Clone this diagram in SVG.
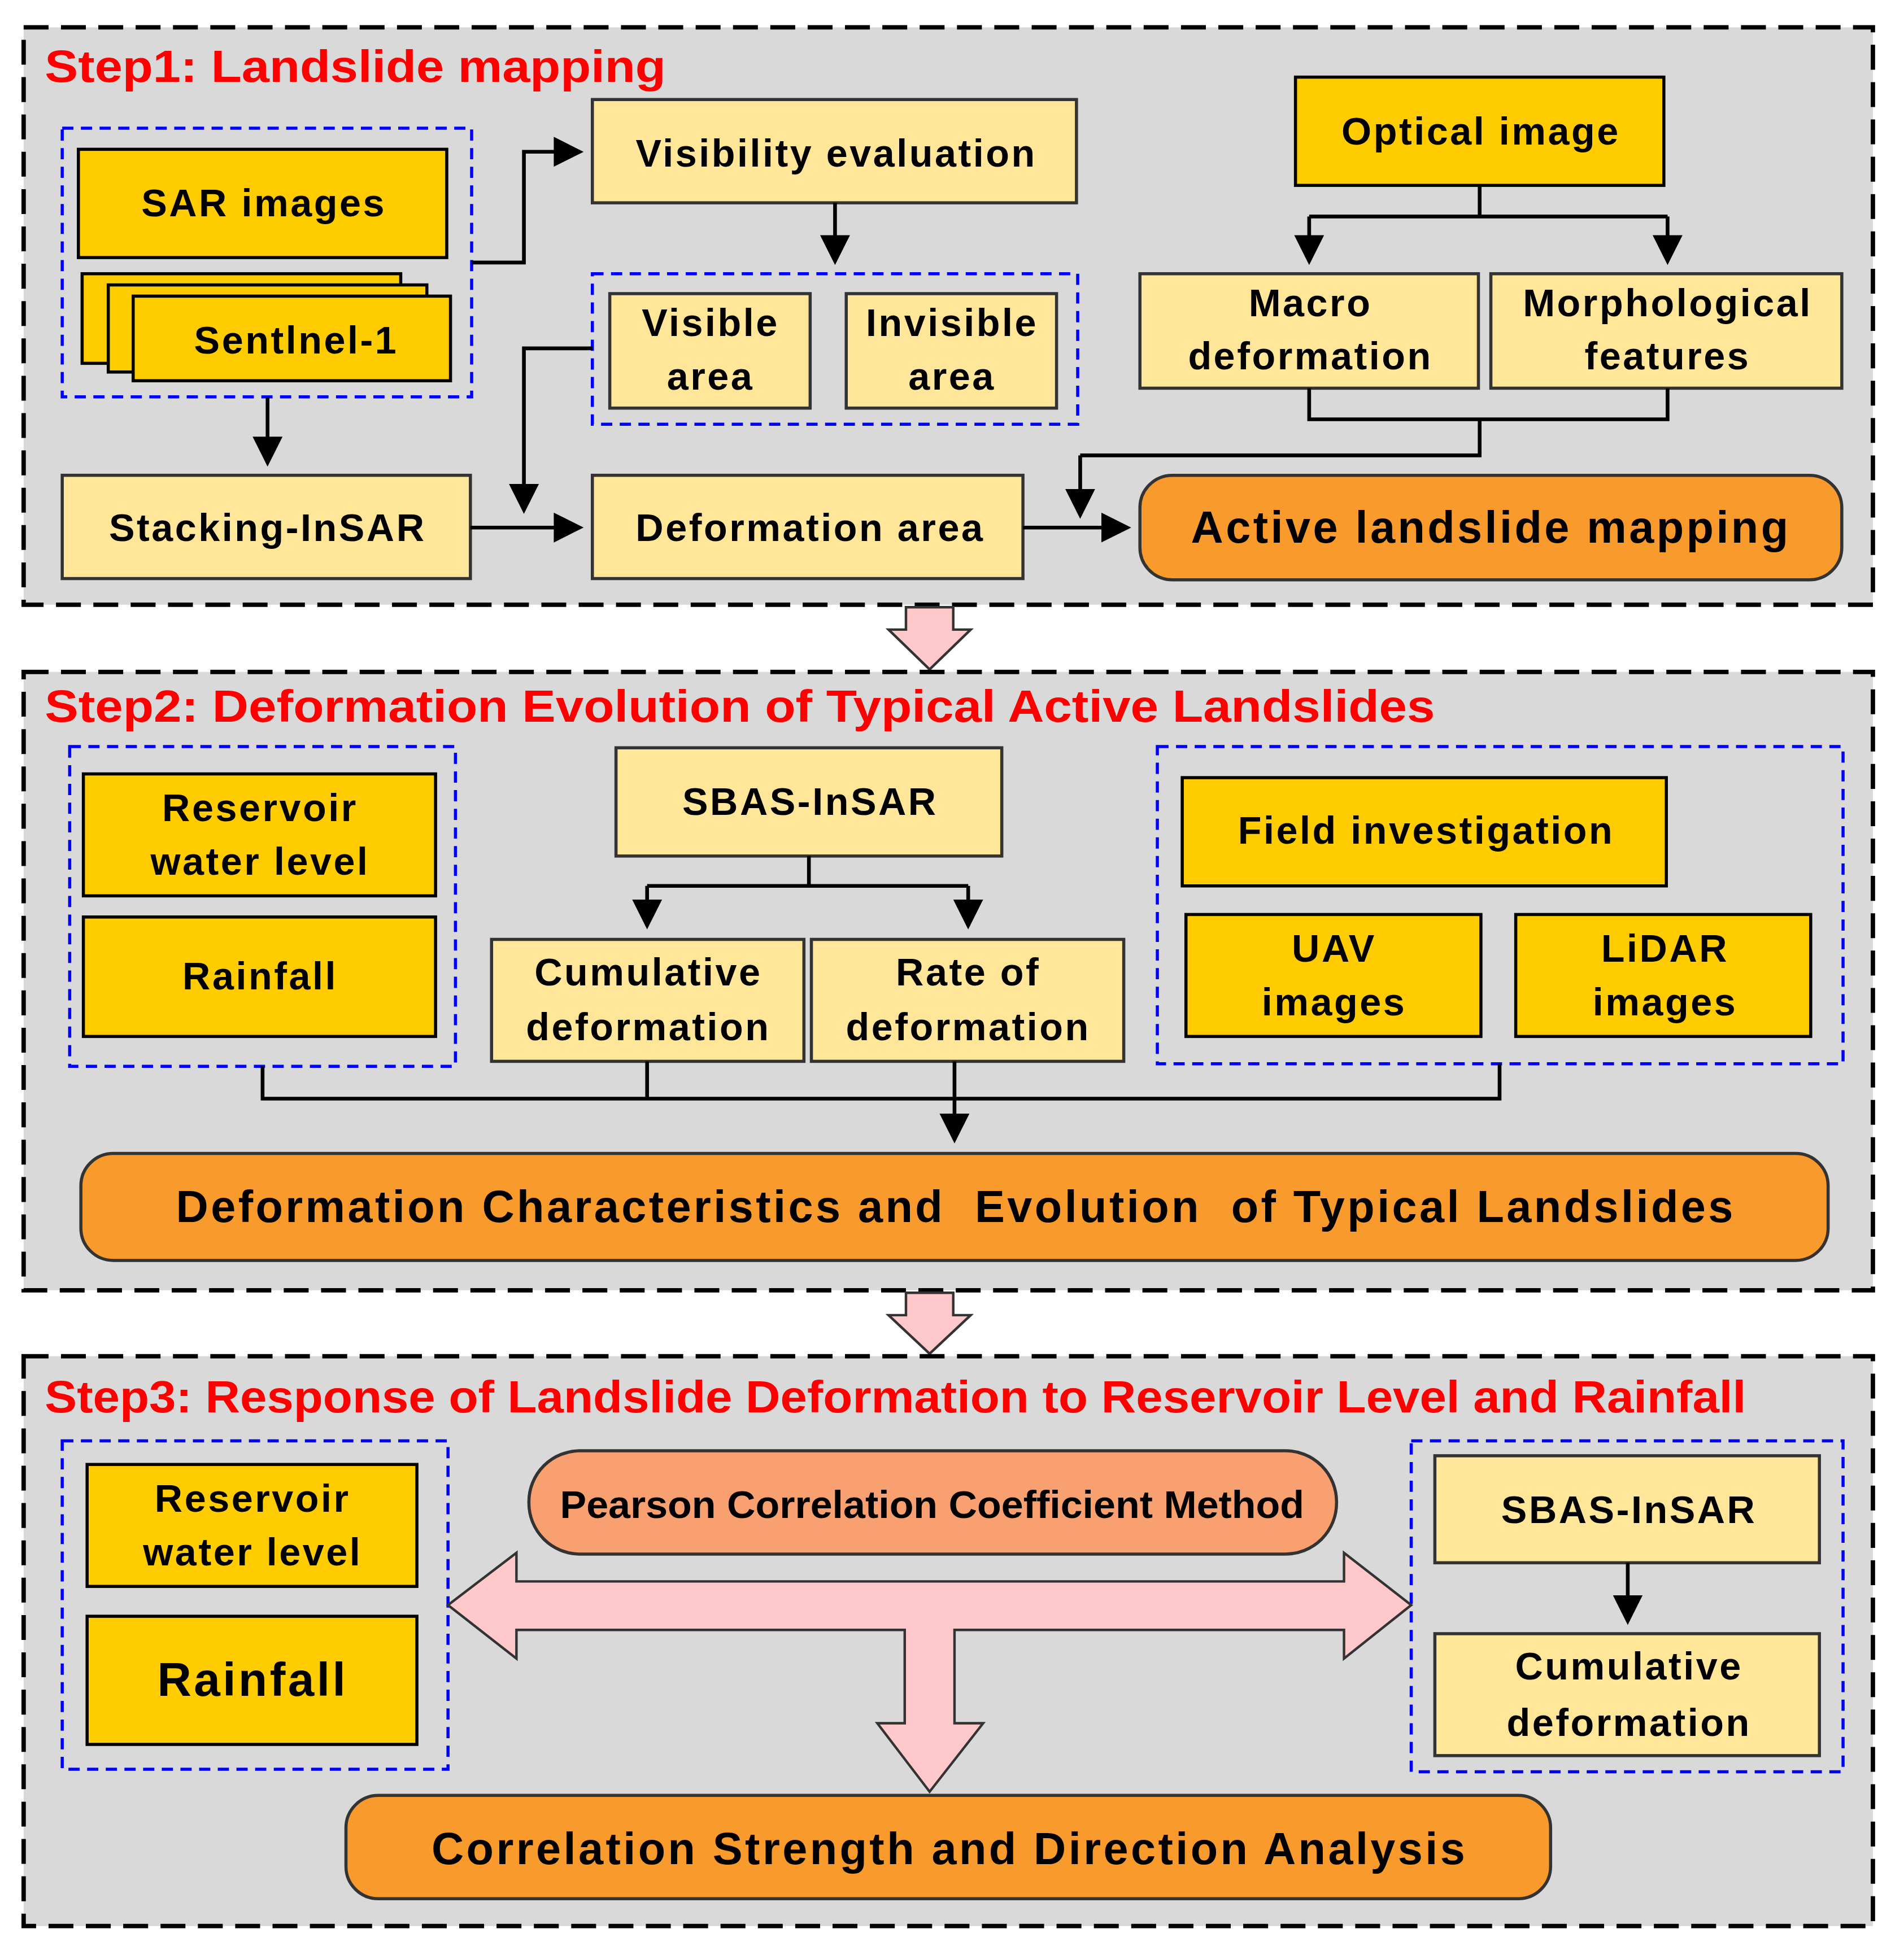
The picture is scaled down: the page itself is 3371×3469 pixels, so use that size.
<svg xmlns="http://www.w3.org/2000/svg" width="3371" height="3469" viewBox="0 0 3371 3469">
<style>
text{font-family:"Liberation Sans",Arial,sans-serif;font-weight:bold;text-anchor:middle;fill:#000;white-space:pre}
.t{font-size:31px;letter-spacing:1.6px}
.big{font-size:36px;letter-spacing:2px}
.title{font-size:36px;fill:#ff0000;text-anchor:start}
.frame{fill:#d9d9d9;stroke:#000;stroke-width:3.5;stroke-dasharray:20 10}
.grp{fill:none;stroke:#0000ff;stroke-width:2.5;stroke-dasharray:9 6}
.dk{fill:#ffcc00;stroke:#000;stroke-width:2.5}
.lt{fill:#ffe699;stroke:#333;stroke-width:2.5}
.or{fill:#f99b2c;stroke:#333;stroke-width:2.5}
.pk{fill:#ffc9cc;stroke:#333;stroke-width:2}
.c{fill:none;stroke:#000;stroke-width:3}
</style>
<defs><marker id="ah" markerWidth="8" markerHeight="8" refX="7" refY="4" orient="auto" markerUnits="strokeWidth"><path d="M0,0L8,4L0,8Z" fill="#000"/></marker></defs>
<rect width="3371" height="3469" fill="#fff"/>
<g transform="scale(2.2033)">
<g id="step1">
<rect class="frame" x="19" y="22" width="1486" height="464"/>
<text class="title" x="36" y="66" textLength="499" lengthAdjust="spacingAndGlyphs">Step1: Landslide mapping</text>
<rect class="grp" x="50" y="103" width="329" height="216"/>
<rect class="grp" x="476" y="220" width="390" height="121"/>
</g>
<g id="sar"><rect class="dk" x="63" y="120" width="296" height="87"/><text class="t" x="212" y="174">SAR images</text></g>
<g id="sentinel"><rect class="dk" x="66" y="220" width="256" height="72"/><rect class="dk" x="87" y="229" width="256" height="70"/><rect class="dk" x="107" y="238" width="255" height="68"/><text class="t" x="238" y="284">Sentlnel-1</text></g>
<g id="visibility"><rect class="lt" x="476" y="80" width="389" height="83"/><text class="t" x="672" y="134">Visibility evaluation</text></g>
<g id="visible"><rect class="lt" x="490" y="236" width="161" height="92"/><text class="t" x="571" y="270">Visible</text><text class="t" x="571" y="313">area</text></g>
<g id="invisible"><rect class="lt" x="680" y="236" width="169" height="92"/><text class="t" x="765" y="270">Invisible</text><text class="t" x="765" y="313">area</text></g>
<g id="stacking"><rect class="lt" x="50" y="382" width="328" height="83"/><text class="t" x="215" y="435">Stacking-InSAR</text></g>
<g id="defarea"><rect class="lt" x="476" y="382" width="346" height="83"/><text class="t" x="651" y="435">Deformation area</text></g>
<g id="optical"><rect class="dk" x="1041" y="62" width="296" height="87"/><text class="t" x="1190" y="116">Optical image</text></g>
<g id="macro"><rect class="lt" x="916" y="220" width="272" height="92"/><text class="t" x="1053" y="254">Macro</text><text class="t" x="1053" y="297">deformation</text></g>
<g id="morph"><rect class="lt" x="1198" y="220" width="282" height="92"/><text class="t" x="1340" y="254">Morphological</text><text class="t" x="1340" y="297">features</text></g>
<g id="active"><rect class="or" x="916" y="382" width="564" height="84" rx="26"/><text class="big" x="1198" y="436">Active landslide mapping</text></g>

<g id="arrow1"><path class="pk" d="M728,488H766V506H780L747,538L714,506H728Z"/></g>

<g id="step2">
<rect class="frame" x="19" y="540" width="1486" height="497"/>
<text class="title" x="36" y="580" textLength="1117" lengthAdjust="spacingAndGlyphs">Step2: Deformation Evolution of Typical Active Landslides</text>
<rect class="grp" x="56" y="600" width="310" height="257"/>
<rect class="grp" x="930" y="600" width="551" height="255"/>
</g>
<g id="res2"><rect class="dk" x="67" y="622" width="283" height="98"/><text class="t" x="209" y="660">Reservoir</text><text class="t" x="209" y="703">water level</text></g>
<g id="rain2"><rect class="dk" x="67" y="737" width="283" height="96"/><text class="t" x="209" y="795">Rainfall</text></g>
<g id="sbas2"><rect class="lt" x="495" y="601" width="310" height="87"/><text class="t" x="651" y="655">SBAS-InSAR</text></g>
<g id="cum2"><rect class="lt" x="395" y="755" width="251" height="98"/><text class="t" x="521" y="792">Cumulative</text><text class="t" x="521" y="836">deformation</text></g>
<g id="rate2"><rect class="lt" x="652" y="755" width="251" height="98"/><text class="t" x="778" y="792">Rate of</text><text class="t" x="778" y="836">deformation</text></g>
<g id="field"><rect class="dk" x="950" y="625" width="389" height="87"/><text class="t" x="1146" y="678">Field investigation</text></g>
<g id="uav"><rect class="dk" x="953" y="735" width="237" height="98"/><text class="t" x="1072" y="773">UAV</text><text class="t" x="1072" y="816">images</text></g>
<g id="lidar"><rect class="dk" x="1218" y="735" width="237" height="98"/><text class="t" x="1338" y="773">LiDAR</text><text class="t" x="1338" y="816">images</text></g>
<g id="defchar"><rect class="or" x="65" y="927" width="1404" height="86" rx="26"/><text class="big" x="768" y="982">Deformation Characteristics and  Evolution  of Typical Landslides</text></g>

<g id="arrow2"><path class="pk" d="M728,1039H766V1057H780L747,1088L714,1057H728Z"/></g>

<g id="step3">
<rect class="frame" x="19" y="1090" width="1486" height="458"/>
<text class="title" x="36" y="1135" textLength="1367" lengthAdjust="spacingAndGlyphs">Step3: Response of Landslide Deformation to Reservoir Level and Rainfall</text>
<rect class="grp" x="50" y="1158" width="310" height="264"/>
<rect class="grp" x="1134" y="1158" width="347" height="266"/>
</g>
<g id="res3"><rect class="dk" x="70" y="1177" width="265" height="98"/><text class="t" x="203" y="1215">Reservoir</text><text class="t" x="203" y="1258">water level</text></g>
<g id="rain3"><rect class="dk" x="70" y="1299" width="265" height="103"/><text style="font-size:38px;letter-spacing:2px" x="203" y="1363">Rainfall</text></g>
<g id="pearson"><rect x="425" y="1166" width="649" height="83" rx="41" fill="#f8a070" stroke="#333" stroke-width="2.5"/><text x="749" y="1220" style="font-size:31px" textLength="598" lengthAdjust="spacingAndGlyphs">Pearson Correlation Coefficient Method</text></g>
<g id="sbas3"><rect class="lt" x="1153" y="1170" width="309" height="86"/><text class="t" x="1309" y="1224">SBAS-InSAR</text></g>
<g id="cum3"><rect class="lt" x="1153" y="1313" width="309" height="98"/><text class="t" x="1309" y="1350">Cumulative</text><text class="t" x="1309" y="1395">deformation</text></g>
<g id="bigarrow"><path class="pk" d="M360,1290L415,1248V1271H1080V1248L1134,1290L1080,1333V1310H767V1385H790L747,1440L705,1385H727V1310H415V1333Z"/></g>
<g id="corr"><rect class="or" x="278" y="1443" width="968" height="83" rx="26"/><text class="big" x="763" y="1498">Correlation Strength and Direction Analysis</text></g>

<g id="connectors">
<path class="c" d="M379,211H421V122H466" marker-end="url(#ah)"/>
<path class="c" d="M671,163V210" marker-end="url(#ah)"/>
<path class="c" d="M476,280H421V410" marker-end="url(#ah)"/>
<path class="c" d="M215,319V372" marker-end="url(#ah)"/>
<path class="c" d="M378,424H466" marker-end="url(#ah)"/>
<path class="c" d="M822,424H906" marker-end="url(#ah)"/>
<path class="c" d="M1189,149V174M1052,174H1340"/>
<path class="c" d="M1052,174V210" marker-end="url(#ah)"/>
<path class="c" d="M1340,174V210" marker-end="url(#ah)"/>
<path class="c" d="M1052,312V337H1340V312M1189,337V366H868"/>
<path class="c" d="M868,366V414" marker-end="url(#ah)"/>
<path class="c" d="M650,688V712M520,712H778"/>
<path class="c" d="M520,712V744" marker-end="url(#ah)"/>
<path class="c" d="M778,712V744" marker-end="url(#ah)"/>
<path class="c" d="M211,857V883H1205V855M520,853V883"/>
<path class="c" d="M767,853V916" marker-end="url(#ah)"/>
<path class="c" d="M1308,1256V1303" marker-end="url(#ah)"/>
</g>
</g>
</svg>
